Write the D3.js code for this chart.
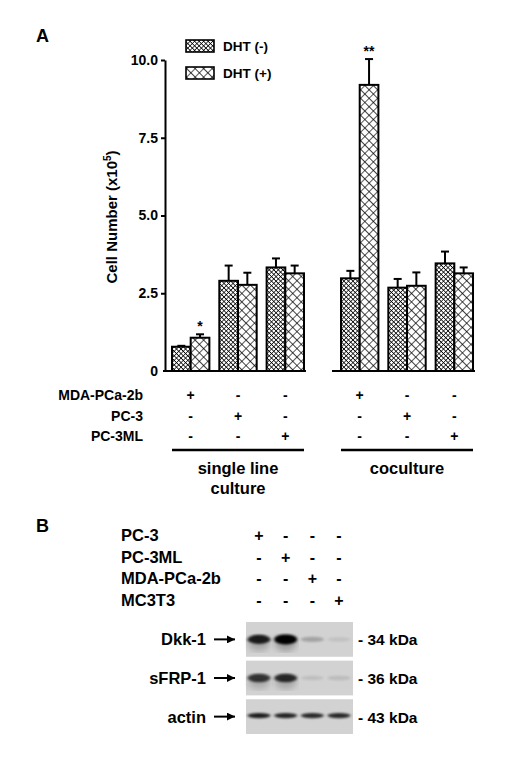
<!DOCTYPE html>
<html>
<head>
<meta charset="utf-8">
<script src="https://cdn.jsdelivr.net/npm/d3@7"></script>
<style>
  body { margin: 0; background: #fff; }
  svg { display: block; font-family: "Liberation Sans", Arial, Helvetica, sans-serif; font-weight: bold; }
</style>
</head>
<body>
<div id="main"></div>
<script>
// ---- panel A data ----
const cultures = ['single line culture', 'coculture']
const cultureLabels = [['single line', 'culture'], ['coculture']]
const cellLines = ['MDA-PCa-2b', 'PC-3', 'PC-3ML']
const groups = [0, 1, 2]
// sign rows (cell line) x columns (group), same for both culture types
const signRows = [['+', '-', '-'], ['-', '+', '-'], ['-', '-', '+']]
const series = ['DHT (-)', 'DHT (+)']
// order: single line (MDA, PC-3, PC-3ML), coculture (MDA, PC-3, PC-3ML)
const dhtMinus = [0.78, 2.90, 3.33, 2.98, 2.68, 3.46]
const dhtMinusErr = [0.03, 0.49, 0.29, 0.24, 0.28, 0.38]
const dhtPlus = [1.07, 2.77, 3.14, 9.20, 2.74, 3.14]
const dhtPlusErr = [0.11, 0.39, 0.25, 0.83, 0.43, 0.19]
const marks = ['', '*', '', '', '', '', '', '**', '', '', '', '']
const yTicks = [0, 2.5, 5, 7.5, 10]
const yTickLabels = ['0', '2.5', '5.0', '7.5', '10.0']

// ---- panel B data ----
const lanes = [0, 1, 2, 3]
const blotLines = ['PC-3', 'PC-3ML', 'MDA-PCa-2b', 'MC3T3']
const blotSigns = [['+', '-', '-', '-'], ['-', '+', '-', '-'], ['-', '-', '+', '-'], ['-', '-', '-', '+']]
const proteins = ['Dkk-1', 'sFRP-1', 'actin']
const weights = ['- 34 kDa', '- 36 kDa', '- 43 kDa']
const dkkBand = [0.85, 1.0, 0.22, 0.08]
const sfrpBand = [0.72, 0.78, 0.09, 0.1]
const actinBand = [0.85, 0.82, 0.8, 0.8]

const W = 520, H = 760
const svg = d3.select('#main').append('svg').attr('width', W).attr('height', H)

const defs = svg.append('defs')
function hatch(id, s, sw) {
  const p = defs.append('pattern').attr('id', id).attr('patternUnits', 'userSpaceOnUse')
    .attr('width', s).attr('height', s).attr('patternTransform', 'rotate(45)')
  p.append('rect').attr('width', s).attr('height', s).attr('fill', '#fff')
  p.append('path').attr('d', `M0,0H${s}M0,0V${s}`).attr('stroke', '#000').attr('stroke-width', sw)
}
hatch('fine', 3.2, 1.4)
hatch('coarse', 6, 1.3)
const fills = ['url(#fine)', 'url(#coarse)']

defs.append('filter').attr('id', 'blur').attr('x', '-50%').attr('y', '-100%').attr('width', '200%').attr('height', '300%')
  .append('feGaussianBlur').attr('stdDeviation', '1.6 1.2')
defs.append('filter').attr('id', 'soft').append('feGaussianBlur').attr('stdDeviation', 3)
defs.append('marker').attr('id', 'arrow').attr('viewBox', '0 0 10 10').attr('refX', 10).attr('refY', 5)
  .attr('markerWidth', 10).attr('markerHeight', 8).attr('markerUnits', 'userSpaceOnUse').attr('orient', 'auto')
  .append('path').attr('d', 'M0,0L10,5L0,10Z').attr('fill', '#000')

// ---- panel A ----
const y = d3.scaleLinear().domain([0, 10]).range([371, 60])
const xOuter = d3.scaleBand().domain(cultures).range([163, 475]).paddingInner(0.154)
const xGroup = d3.scaleBand().domain(groups).range([9, 141]).paddingInner(0.21)
const xSeries = d3.scaleBand().domain(series).range([0, xGroup.bandwidth()])

svg.append('text').attr('x', 36).attr('y', 42).attr('font-size', 18).text('A')

const yAxis = svg.append('g').attr('transform', 'translate(165,0)')
  .call(d3.axisLeft(y).tickValues(yTicks).tickFormat((d, i) => yTickLabels[i]).tickSize(4).tickSizeOuter(0).tickPadding(3))
yAxis.select('.domain').attr('stroke-width', 2)
yAxis.selectAll('.tick line').attr('stroke-width', 2)
yAxis.selectAll('.tick text').attr('font-size', 14).attr('font-family', null).attr('fill', '#000')
yAxis.selectAll('.tick').filter(d => d === 0).select('line').remove()

const ylab = svg.append('text').attr('transform', 'translate(117,217) rotate(-90)')
  .attr('text-anchor', 'middle').attr('font-size', 15)
ylab.append('tspan').text('Cell Number (x10')
ylab.append('tspan').attr('font-size', 10).attr('dy', -6).text('5')
ylab.append('tspan').attr('dy', 6).text(')')

// legend
series.forEach((s, i) => {
  const ly = 40 + i * 27
  svg.append('rect').attr('x', 186).attr('y', ly).attr('width', 28).attr('height', 12)
    .attr('fill', fills[i]).attr('stroke', '#000').attr('stroke-width', 1.6)
  svg.append('text').attr('x', 223).attr('y', ly + 11).attr('font-size', 13.5).text(s)
})

const rows = []
cultures.forEach((c, ci) => groups.forEach(g => {
  const k = ci * 3 + g
  rows.push({ c, g, s: series[0], v: dhtMinus[k], e: dhtMinusErr[k], fill: fills[0], m: marks[k * 2] })
  rows.push({ c, g, s: series[1], v: dhtPlus[k], e: dhtPlusErr[k], fill: fills[1], m: marks[k * 2 + 1] })
}))
const bx = d => xOuter(d.c) + xGroup(d.g) + xSeries(d.s)
const bw = xSeries.bandwidth()

const bars = svg.append('g').selectAll('g').data(rows).join('g')
bars.append('line').attr('x1', d => bx(d) + bw / 2).attr('x2', d => bx(d) + bw / 2)
  .attr('y1', d => y(d.v)).attr('y2', d => y(d.v + d.e)).attr('stroke', '#000').attr('stroke-width', 2)
bars.append('line').attr('x1', d => bx(d) + bw / 2 - 4).attr('x2', d => bx(d) + bw / 2 + 4)
  .attr('y1', d => y(d.v + d.e)).attr('y2', d => y(d.v + d.e)).attr('stroke', '#000').attr('stroke-width', 2)
bars.append('rect').attr('x', d => bx(d)).attr('y', d => y(d.v)).attr('width', bw)
  .attr('height', d => y(0) - y(d.v)).attr('fill', d => d.fill).attr('stroke', '#000').attr('stroke-width', 2)
bars.filter(d => d.m).append('text').attr('x', d => bx(d) + bw / 2).attr('y', d => y(d.v + d.e) - 3)
  .attr('text-anchor', 'middle').attr('font-size', 14).text(d => d.m)

// broken baseline
cultures.forEach(c => {
  svg.append('line').attr('x1', xOuter(c)).attr('x2', xOuter(c) + xOuter.bandwidth())
    .attr('y1', y(0)).attr('y2', y(0)).attr('stroke', '#000').attr('stroke-width', 2)
})

// condition table
const rowY = d3.scalePoint().domain(cellLines).range([400, 441])
cellLines.forEach((l, r) => {
  svg.append('text').attr('x', 143).attr('y', rowY(l)).attr('text-anchor', 'end').attr('font-size', 14).text(l)
  cultures.forEach(c => groups.forEach(g => {
    svg.append('text').attr('x', xOuter(c) + xGroup(g) + xGroup.bandwidth() / 2).attr('y', rowY(l))
      .attr('text-anchor', 'middle').attr('font-size', 14).text(signRows[r][g])
  }))
})
cultures.forEach((c, ci) => {
  const x0 = xOuter(c) + xGroup(0), x1 = xOuter(c) + xGroup(2) + xGroup.bandwidth()
  svg.append('line').attr('x1', x0).attr('x2', x1).attr('y1', 450).attr('y2', 450)
    .attr('stroke', '#000').attr('stroke-width', 2.5)
  cultureLabels[ci].forEach((t, j) => {
    svg.append('text').attr('x', (x0 + x1) / 2).attr('y', 474 + j * 20).attr('text-anchor', 'middle')
      .attr('font-size', 16.5).text(t)
  })
})

// ---- panel B ----
svg.append('text').attr('x', 36).attr('y', 532).attr('font-size', 18).text('B')
const lx = d3.scalePoint().domain(lanes).range([259, 339])
const hy = d3.scalePoint().domain(blotLines).range([541, 606])
blotLines.forEach((l, r) => {
  svg.append('text').attr('x', 121).attr('y', hy(l)).attr('font-size', 16.5).text(l)
  lanes.forEach(k => {
    svg.append('text').attr('x', lx(k)).attr('y', hy(l)).attr('text-anchor', 'middle')
      .attr('font-size', 16).text(blotSigns[r][k])
  })
})

const panelY = d3.scaleBand().domain(proteins).range([622, 734]).paddingInner(0.1)
const bands = [dkkBand, sfrpBand, actinBand]
proteins.forEach((p, i) => {
  const top = panelY(p), h = panelY.bandwidth(), cy = top + h / 2
  svg.append('rect').attr('x', 246).attr('y', top).attr('width', 107).attr('height', h).attr('fill', '#d2d2d2')
  const g = svg.append('g')
  bands[i].forEach((v, k) => {
    const ry = i === 2 ? 2.6 : 2 + 3 * v
    if (i < 2 && v > 0.5) {
      g.append('ellipse').attr('cx', lx(k)).attr('cy', cy + 4).attr('rx', 11).attr('ry', ry + 3)
        .attr('fill', '#000').attr('opacity', v * 0.25).attr('filter', 'url(#soft)')
    }
    g.append('ellipse').attr('cx', lx(k)).attr('cy', cy + (i === 2 ? -1 : 0)).attr('rx', 11.5).attr('ry', ry)
      .attr('fill', '#000').attr('opacity', v).attr('filter', 'url(#blur)')
  })
  svg.append('text').attr('x', 206).attr('y', cy + 6).attr('text-anchor', 'end').attr('font-size', 16.5).text(p)
  svg.append('line').attr('x1', 214).attr('x2', 235).attr('y1', cy).attr('y2', cy)
    .attr('stroke', '#000').attr('stroke-width', 2).attr('marker-end', 'url(#arrow)')
  svg.append('text').attr('x', 358).attr('y', cy + 6).attr('font-size', 15.5).text(weights[i])
})
</script>
</body>
</html>
